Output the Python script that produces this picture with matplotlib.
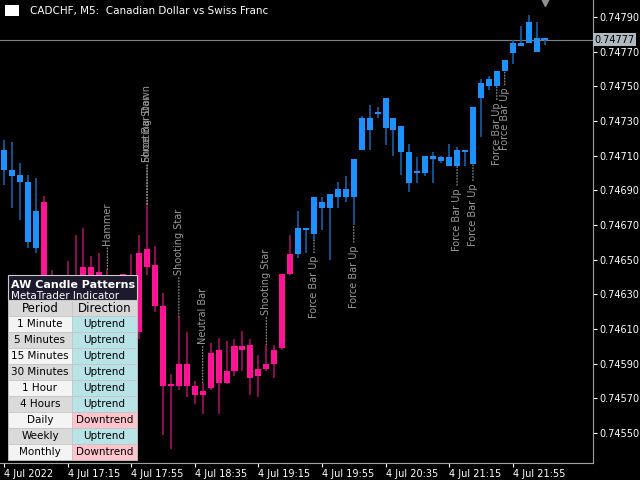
import matplotlib.pyplot as plt
from matplotlib.patches import Rectangle

# CADCHF M5 candles (body top/bottom given as open/close)
opens = [74702, 74698, 74695, 74660, 74657, 74683, 74638, 74635, 74641, 74641,
         74646, 74646, 74643, 74638, 74635, 74642, 74641, 74654, 74656, 74647,
         74623, 74578, 74590, 74590, 74577, 74574, 74596, 74598, 74586, 74600,
         74600, 74601, 74587, 74590, 74598, 74599, 74642, 74653, 74667, 74665,
         74680, 74680, 74686, 74686, 74686, 74713, 74725, 74734, 74726, 74725,
         74712, 74694, 74700, 74700, 74708, 74707, 74704, 74704, 74712, 74705,
         74743, 74750, 74750, 74759, 74769, 74773, 74775, 74770, 74777]
closes = [74713, 74702, 74699, 74695, 74678, 74632, 74627, 74630, 74632, 74635,
          74635, 74635, 74632, 74630, 74631, 74632, 74630, 74608, 74646, 74623,
          74577, 74577, 74577, 74577, 74572, 74572, 74576, 74579, 74579, 74586,
          74598, 74582, 74583, 74587, 74590, 74642, 74653, 74668, 74668, 74686,
          74683, 74688, 74691, 74691, 74708, 74732, 74732, 74735, 74743, 74732,
          74727, 74712, 74701, 74710, 74710, 74709, 74709, 74713, 74713, 74738,
          74752, 74754, 74759, 74765, 74775, 74775, 74787, 74778, 74778]
highs = [74719, 74718, 74706, 74699, 74697, 74687, 74644, 74639, 74649, 74664,
         74668, 74652, 74654, 74644, 74638, 74642, 74653, 74664, 74682, 74658,
         74631, 74584, 74617, 74608, 74580, 74579, 74602, 74605, 74603, 74604,
         74609, 74604, 74595, 74601, 74601, 74642, 74664, 74678, 74668, 74686,
         74686, 74688, 74695, 74698, 74708, 74733, 74739, 74738, 74743, 74732,
         74727, 74717, 74709, 74710, 74712, 74710, 74717, 74715, 74713, 74738,
         74754, 74756, 74759, 74765, 74777, 74785, 74791, 74787, 74778]
lows = [74693, 74680, 74673, 74657, 74654, 74630, 74621, 74627, 74628, 74631,
        74632, 74631, 74629, 74615, 74628, 74629, 74627, 74604, 74641, 74620,
        74549, 74541, 74575, 74571, 74567, 74561, 74575, 74561, 74578, 74583,
        74586, 74572, 74571, 74586, 74582, 74598, 74641, 74651, 74654, 74661,
        74667, 74650, 74680, 74683, 74670, 74713, 74713, 74732, 74716, 74710,
        74699, 74689, 74694, 74698, 74694, 74706, 74704, 74704, 74704, 74705,
        74721, 74748, 74750, 74759, 74763, 74773, 74775, 74770, 74774]
trend = ['up'] * 5 + ['down'] * 32 + ['up'] * 32

time_labels = ['4 Jul 2022', '4 Jul 17:15', '4 Jul 17:55', '4 Jul 18:35', '4 Jul 19:15',
               '4 Jul 19:55', '4 Jul 20:35', '4 Jul 21:15', '4 Jul 21:55']
price_ticks = [74550, 74570, 74590, 74610, 74630, 74650, 74670, 74690,
               74710, 74730, 74750, 74770, 74790]
last_price = 74777

# (bar, text, above?, gap in px)
patterns = [(13, 'Hammer', True, 25), (18, 'Force Bar Down', True, 42),
            (18, 'Shooting Star', True, 42), (22, 'Shooting Star', True, 42),
            (25, 'Neutral Bar', True, 39), (33, 'Shooting Star', True, 30),
            (39, 'Force Bar Up', False, 15), (44, 'Force Bar Up', False, 20),
            (57, 'Force Bar Up', False, 22), (59, 'Force Bar Up', False, 19),
            (62, 'Force Bar Up', False, 16), (63, 'Force Bar Up', False, 17)]

periods = ['1 Minute', '5 Minutes', '15 Minutes', '30 Minutes', '1 Hour',
           '4 Hours', 'Daily', 'Weekly', 'Monthly']
directions = ['Uptrend'] * 6 + ['Downtrend', 'Uptrend', 'Downtrend']

body_col = {'up': '#1e90ff', 'down': '#ff1493'}
wick_col = {'up': '#1a5f9e', 'down': '#a3125e'}

fig = plt.figure(figsize=(6.4, 4.8), dpi=100, facecolor='black')
ax = fig.add_axes([0, 17 / 480, 593 / 640, 463 / 480], facecolor='black')

sc = 1e-5
for i in range(len(opens)):
    t = trend[i]
    ax.vlines(i, lows[i] * sc, highs[i] * sc, color=wick_col[t], lw=1.2, zorder=2)
    lo, hi = min(opens[i], closes[i]) * sc, max(opens[i], closes[i]) * sc
    ax.add_patch(Rectangle((i - 0.38, lo), 0.76, max(hi - lo, 0.3 * sc),
                           color=body_col[t], zorder=3, lw=0))

for bar, text, above, gap in patterns:
    y = highs[bar] * sc if above else lows[bar] * sc
    off = gap * 0.72 if above else -gap * 0.72
    ax.annotate(text, xy=(bar, y), xytext=(0, off), textcoords='offset points',
                rotation=90, ha='center', va='bottom' if above else 'top',
                color='#9a9a9a', fontsize=7,
                arrowprops=dict(arrowstyle='-', linestyle=':', color='#9a9a9a', lw=0.8,
                                shrinkA=0, shrinkB=0))

ax.axhline(last_price * sc, color='#808080', lw=0.8, zorder=1)

ax.set_xlim(-0.5, 74.1)
ax.set_ylim(0.745327, 0.747998)
ax.yaxis.tick_right()
ax.set_yticks([p * sc for p in price_ticks])
ax.set_yticklabels([f'{p * sc:.5f}' for p in price_ticks])
ax.set_xticks(range(0, 8 * len(time_labels), 8))
ax.set_xticklabels(time_labels, ha='left')
ax.tick_params(colors='white', labelsize=7, length=3, pad=1.5)
for lab in ax.get_xticklabels():
    lab.set_color('white')
for s in ['top', 'left']:
    ax.spines[s].set_visible(False)
for s in ['right', 'bottom']:
    ax.spines[s].set_color('#a0a0a0')

ax.text(1.003, last_price * sc, f'{last_price * sc:.5f}', transform=ax.get_yaxis_transform(),
        va='center', ha='left', fontsize=7, color='black',
        bbox=dict(boxstyle='square,pad=0.15', fc='#b0b8c0', ec='none'))

# overlay in pixel coords for title and table
ov = fig.add_axes([0, 0, 1, 1], facecolor='none')
ov.set_xlim(0, 640)
ov.set_ylim(480, 0)
ov.axis('off')
ov.add_patch(Rectangle((5, 5), 14, 11, fc='white', ec='none'))
ov.text(30, 11, 'CADCHF, M5:  Canadian Dollar vs Swiss Franc', color='white',
        fontsize=7.5, va='center')
ov.plot([545], [1], marker='v', color='#909090', ms=7)

x0, x1, x2 = 8, 72, 137
ov.add_patch(Rectangle((x0, 275), x2 - x0, 25, fc='#1c1a2c', ec='#cccccc', lw=0.8))
ov.text(x0 + 3, 285, 'AW Candle Patterns', color='white', fontsize=8, fontweight='bold',
        va='center')
ov.text(x0 + 3, 296, 'MetaTrader Indicator', color='white', fontsize=7.5, va='center')
rows = [('Period', 'Direction')] + list(zip(periods, directions))
for r, (p, d) in enumerate(rows):
    y = 300 + 16 * r
    if r == 0:
        lc, rc = '#d8d8d8', '#d8d8d8'
    else:
        lc = '#f4f4f4' if r % 2 else '#dadada'
        rc = '#b8e4e8' if d == 'Uptrend' else '#ffc4cc'
    ov.add_patch(Rectangle((x0, y), x1 - x0, 16, fc=lc, ec='#c8c8c8', lw=0.6))
    ov.add_patch(Rectangle((x1, y), x2 - x1, 16, fc=rc, ec='#c8c8c8', lw=0.6))
    fs = 8.5 if r == 0 else 7.5
    ov.text((x0 + x1) / 2, y + 8, p, ha='center', va='center', fontsize=fs, color='black')
    ov.text((x1 + x2) / 2, y + 8, d, ha='center', va='center', fontsize=fs, color='black')

fig.savefig('out.png', dpi=100, facecolor='black')
